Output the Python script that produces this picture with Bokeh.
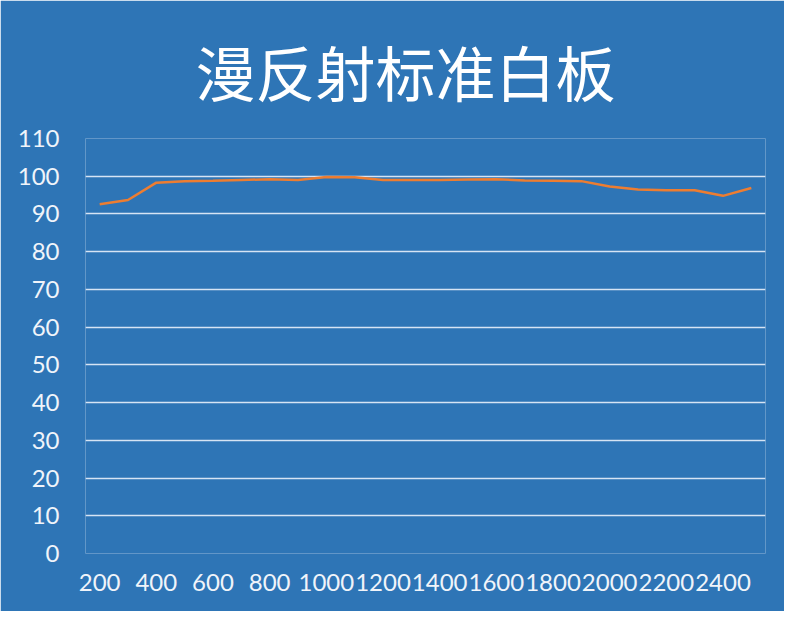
from bokeh.plotting import figure
from bokeh.models import FixedTicker, Range1d
from bokeh.embed import file_html
from bokeh.resources import INLINE

wavelengths = list(range(200, 2600, 100))
reflectance = [92.6, 93.7, 98.3, 98.7, 98.8, 99.0, 99.2, 99.0, 99.8, 99.7,
               99.0, 99.0, 99.0, 99.1, 99.2, 98.9, 98.8, 98.7, 97.3, 96.5,
               96.3, 96.3, 94.8, 96.9]
x_ticks = list(range(200, 2500, 200))
y_ticks = list(range(0, 111, 10))
title_text = "漫反射标准白板"

BG = "#2E75B6"
W, H = 784, 611
LEFT, RIGHT, TOP, BOTTOM = 85, 19, 138, 58

p = figure(width=W, height=H, x_range=Range1d(150, 2550), y_range=Range1d(0, 110),
           output_backend="svg", toolbar_location=None,
           background_fill_color=BG, border_fill_color=BG,
           min_border_left=LEFT, min_border_right=RIGHT, min_border_top=TOP,
           min_border_bottom=BOTTOM)

p.title.text = title_text
p.title.align = "left"
p.title.offset = 110
p.title.text_font = "Noto Sans CJK SC"
p.title.text_font_size = "60px"
p.title.text_font_style = "normal"
p.title.text_color = "white"
p.title.standoff = 49

p.line(wavelengths, reflectance, line_color="#ED7D31", line_width=2.5)

p.outline_line_color = None
p.xgrid.grid_line_color = None
p.ygrid.ticker = FixedTicker(ticks=y_ticks)
p.ygrid.grid_line_color = "#D6E4F4"
p.ygrid.grid_line_width = 1.5

p.xaxis.ticker = FixedTicker(ticks=x_ticks)
p.yaxis.ticker = FixedTicker(ticks=y_ticks)
for ax in (p.xaxis[0], p.yaxis[0]):
    ax.axis_line_color = None
    ax.major_tick_line_color = None
    ax.minor_tick_line_color = None
    ax.major_label_text_color = "#F0F4FA"
    ax.major_label_text_font = "Lato"
    ax.major_label_text_font_size = "24px"
p.yaxis.major_label_standoff = 20
p.xaxis.major_label_standoff = 14

open("out.html", "w").write(file_html(p, INLINE))
